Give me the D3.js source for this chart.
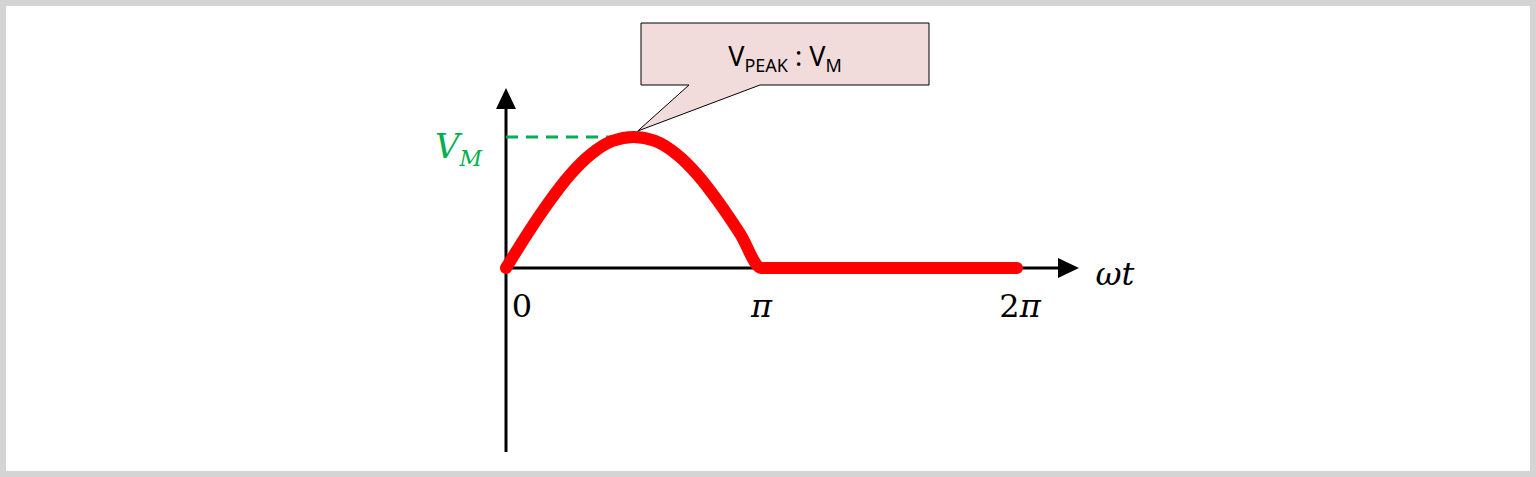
<!DOCTYPE html>
<html><head><meta charset="utf-8">
<script src="https://cdn.jsdelivr.net/npm/d3@7"></script>
<style>body{margin:0;background:#fff}svg{display:block}</style>
</head><body><div id="chart"></div>
<script>
// phase in units of pi, value in units of Vm (half-wave rectified)
const phase = [0, 1/12, 2/12, 3/12, 4/12, 5/12, 6/12, 7/12, 8/12, 9/12, 10/12, 11/12, 1, 1.5, 2];
const voltage = [0, 0.26, 0.5, 0.71, 0.87, 0.97, 1, 0.97, 0.87, 0.71, 0.5, 0.26, 0, 0, 0];
const tickValues = [0, 1, 2];
const tickLabels = ['0', 'π', '2π'];

const width = 1536, height = 477;
const svg = d3.select('#chart').append('svg').attr('width', width).attr('height', height);

svg.append('rect').attr('x', 3).attr('y', 3).attr('width', width - 6).attr('height', height - 6)
    .attr('fill', '#fff').attr('stroke', '#d4d4d4').attr('stroke-width', 6);

let x = d3.scaleLinear().domain([0, 2]).range([506, 1017]);
let y = d3.scaleLinear().domain([0, 1]).range([268, 137]);

// axes
svg.append('line').attr('x1', x(0)).attr('x2', 1060).attr('y1', y(0)).attr('y2', y(0))
    .attr('stroke', '#000').attr('stroke-width', 3);
svg.append('path').attr('d', 'M1058,258 L1079,268 L1058,278 Z').attr('fill', '#000');
svg.append('line').attr('x1', x(0)).attr('x2', x(0)).attr('y1', 452).attr('y2', 106)
    .attr('stroke', '#000').attr('stroke-width', 3);
svg.append('path').attr('d', 'M496,109 L506,88 L516,109 Z').attr('fill', '#000');

// dashed Vm line
svg.append('line').attr('x1', x(0)).attr('x2', x(0.5)).attr('y1', y(1)).attr('y2', y(1))
    .attr('stroke', '#00b050').attr('stroke-width', 3).attr('stroke-dasharray', '12,8');

// waveform
svg.append('path')
    .datum(phase.map((p, i) => [p, voltage[i]]))
    .attr('d', d3.line().x(d => x(d[0])).y(d => y(d[1])).curve(d3.curveMonotoneX))
    .attr('fill', 'none').attr('stroke', '#ff0000').attr('stroke-width', 12)
    .attr('stroke-linecap', 'round').attr('stroke-linejoin', 'round');

// tick labels
const font = '"DejaVu Serif", "Liberation Serif", serif';
svg.selectAll('.tick').data(tickValues).join('text')
    .attr('x', (d, i) => x(d) + (i === 0 ? 16 : i === 2 ? 3 : 0))
    .attr('y', 317).attr('text-anchor', 'middle')
    .attr('font-family', font).attr('font-size', 32)
    .style('font-style', (d, i) => 'normal')
    .each(function(d, i) {
        let t = d3.select(this);
        if (i === 0) t.text('0');
        else {
            if (i === 2) t.append('tspan').text('2');
            t.append('tspan').attr('font-style', 'italic').text('π');
        }
    });

svg.append('text').attr('x', 1115).attr('y', 285).attr('text-anchor', 'middle')
    .attr('font-family', font).attr('font-size', 32).attr('font-style', 'italic').text('ωt');

let vm = svg.append('text').attr('x', 435).attr('y', 158)
    .attr('font-family', font).attr('font-size', 34).attr('font-style', 'italic').attr('fill', '#00b050');
vm.append('tspan').text('V');
vm.append('tspan').attr('font-size', 22).attr('dy', 8).text('M');

// callout
svg.append('path')
    .attr('d', `M641,23 H929 V85 H760 L${x(0.5) + 4},${y(1) - 6} L689,85 H641 Z`)
    .attr('fill', '#f2dcdb').attr('stroke', '#000').attr('stroke-width', 1);
let lab = svg.append('text').attr('x', 785).attr('y', 66).attr('text-anchor', 'middle')
    .attr('font-family', '"Noto Sans", sans-serif').attr('font-size', 27);
lab.append('tspan').text('V');
lab.append('tspan').attr('font-size', 18).attr('dy', 6).text('PEAK');
lab.append('tspan').attr('dy', -6).text(' : V');
lab.append('tspan').attr('font-size', 18).attr('dy', 6).text('M');
</script>
</body></html>
